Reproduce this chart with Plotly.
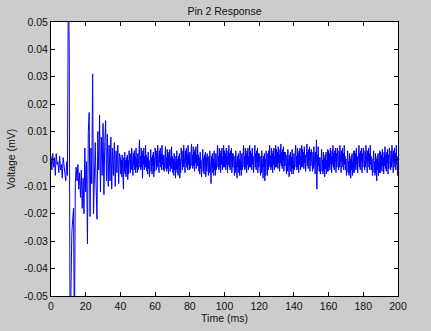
import plotly.graph_objects as go

# Sample times (ms): 0.5 ms grid to 40 ms, then 0.25 ms grid to 200 ms
time_early_ms = [i * 0.5 for i in range(80)]
time_late_ms = [40 + i * 0.25 for i in range(641)]

# Voltage, in microvolts (1 uV = 0.001 mV)
voltage_early_uV = [
    1, -4, 2, -3, 0.5, -6, 2, -2, -1, -5,
    1, -4, -2, -7, 0.5, -3, -5, -8, -1, -6,
    70, 40, -70, -36, -27, -22, -18, -70, -9, -3,
    -8, -2, -11, -5, -14, -4, -18, -7, -20, 4,
    -12, -1, -31, 10, 17, -21, 4, -9, 31, -20,
    -2, 6, -10, -22, 10, -4, 16, -12, 8, -6,
    13, -13, 6, 14, -8, 9, -10, 5, -8, 8,
    -11, 4, -6, 6, -10, 3, -5, 5, -9, 2,
]

voltage_late_uV = [
    0.5, -5.5, -0.5, -6.5, 1.5, -4.5, -1.5, -11, 0.5, -4.5, 2.5, -5.5, -0.5, -6.5, 0.5, -3.5, 1.5, -7.5, -0.5, -5.5,
    3, -3, 0, -5, 2, -4, 4, -3, 1, -6, 2, -2, 3, -4, 1, -5, 4, -3, 0, -5,
    2, -4, 3, -2, 7, -3, 1, -4, 4, -3, 2, -7, 3, -2, 4, -4, 1, -3, 5, -3,
    1.5, -4.5, 0.5, -5.5, 2.5, -3.5, -0.5, -6.5, 1.5, -3.5, 3.5, -4.5, 0.5, -5.5, 1.5, -2.5, 2.5, -6.5, 0.5, -4.5,
    4, -2, 1, -4, 3, -3, 5, -2, 2, -5, 3, -1, 4, -3, 2, -4, 5, -2, 1, -4,
    1.5, -4.5, 2.5, -2.5, 4.5, -3.5, 0.5, -4.5, 3.5, -3.5, 1.5, -5.5, 2.5, -2.5, 3.5, -4.5, 0.5, -3.5, 4.5, -3.5,
    1, -5, 0, -6, 2, -4, -1, -7, 1, -4, 3, -5, 0, -6, 1, -3, 2, -7, 0, -5,
    4, -2, 1, -4, 3, -3, 5, -2, 2, -5, 3, -1, 4, -3, 2, -4, 5, -2, 1, -4,
    2.5, -3.5, 3.5, -1.5, 5.5, -2.5, 1.5, -3.5, 4.5, -2.5, 2.5, -4.5, 3.5, -1.5, 4.5, -3.5, 1.5, -2.5, 5.5, -2.5,
    1.5, -4.5, 0.5, -5.5, 2.5, -3.5, -0.5, -6.5, 1.5, -3.5, 3.5, -4.5, 0.5, -5.5, 1.5, -2.5, 2.5, -6.5, 0.5, -4.5,
    2, -4, -1, -6, 1, -5, 3, -4, 0, -9, 1, -3, 2, -5, 0, -6, 3, -4, -1, -6,
    2, -4, 3, -2, 5, -3, 1, -4, 4, -3, 2, -5, 3, -2, 4, -4, 1, -3, 5, -3,
    3, -3, 2, -4, 4, -2, 1, -5, 3, -2, 5, -3, 2, -4, 3, -1, 4, -5, 2, -3,
    2, -4, -1, -6, 1, -5, 3, -4, 0, -7, 1, -3, 2, -5, 0, -6, 3, -4, -1, -6,
    2, -4, 3, -2, 5, -3, 1, -4, 4, -3, 2, -5, 3, -2, 4, -4, 1, -3, 5, -3,
    3, -3, 2, -4, 4, -2, 1, -5, 3, -2, 5, -3, 2, -4, 3, -1, 4, -5, 2, -3,
    2, -4, -1, -6, 1, -5, 3, -4, 0, -7, 1, -3, 2, -8, 0, -6, 3, -4, -1, -6,
    2, -4, 3, -2, 5, -3, 1, -4, 4, -3, 2, -5, 3, -2, 4, -4, 1, -3, 5, -3,
    3.5, -2.5, 2.5, -3.5, 4.5, -1.5, 1.5, -4.5, 3.5, -1.5, 5.5, -2.5, 2.5, -3.5, 3.5, -0.5, 4.5, -4.5, 2.5, -2.5,
    2.5, -3.5, -0.5, -5.5, 1.5, -4.5, 3.5, -3.5, 0.5, -6.5, 1.5, -2.5, 2.5, -4.5, 0.5, -5.5, 3.5, -3.5, -0.5, -5.5,
    2, -4, 3, -2, 5, -3, 1, -4, 4, -3, 2, -5, 3, -2, 4, -4, 1, -3, 5, -3,
    3.5, -2.5, 2.5, -3.5, 4.5, -1.5, 1.5, -4.5, 3.5, -1.5, 5.5, -2.5, 2.5, -3.5, 3.5, -0.5, 4.5, -4.5, 2.5, -2.5,
    3.5, -2.5, 0.5, -4.5, 2.5, -3.5, 4.5, -2.5, 1.5, -5.5, 2.5, -1.5, 7, -11, 1.5, -4.5, 4.5, -2.5, 0.5, -4.5,
    0.5, -5.5, 1.5, -3.5, 3.5, -4.5, -0.5, -5.5, 2.5, -4.5, 0.5, -6.5, 1.5, -3.5, 2.5, -5.5, -0.5, -4.5, 3.5, -4.5,
    3, -3, 2, -4, 4, -2, 1, -5, 3, -2, 5, -3, 2, -4, 3, -1, 4, -5, 2, -3,
    4, -2, 1, -4, 3, -3, 5, -2, 2, -5, 3, -1, 4, -3, 2, -4, 5, -2, 1, -4,
    0, -6, 1, -4, 3, -5, -1, -6, 2, -5, 0, -7, 1, -4, 2, -6, -1, -5, 3, -5,
    3, -3, 2, -4, 4, -2, 1, -5, 3, -2, 5, -3, 2, -4, 3, -1, 4, -5, 2, -3,
    4, -2, 1, -4, 3, -3, 5, -2, 2, -5, 3, -1, 4, -3, 2, -4, 5, -2, 1, -4,
    0, -6, 1, -4, 3, -5, -1, -6, 2, -5, 0, -8, 1, -4, 2, -6, -1, -5, 3, -5,
    2.5, -3.5, 1.5, -4.5, 3.5, -2.5, 0.5, -5.5, 2.5, -2.5, 4.5, -3.5, 1.5, -4.5, 2.5, -1.5, 3.5, -5.5, 1.5, -3.5,
    4, -2, 1, -4, 3, -3, 5, -2, 2, -5, 3, -1, 4, -3, 2, -4, 5, -2, 1, -6,
    -3,
]

time_ms = time_early_ms + time_late_ms
voltage_mV = [v / 1000 for v in voltage_early_uV + voltage_late_uV]

x_ticks = [0, 20, 40, 60, 80, 100, 120, 140, 160, 180, 200]
x_tick_labels = ["0", "20", "40", "60", "80", "100", "120", "140", "160", "180", "200"]
y_ticks = [0.05, 0.04, 0.03, 0.02, 0.01, 0.0, -0.01, -0.02, -0.03, -0.04, -0.05]
y_tick_labels = ["0.05", "0.04", "0.03", "0.02", "0.01", "0", "-0.01", "-0.02", "-0.03", "-0.04", "-0.05"]

FONT = "Liberation Sans, Arial, sans-serif"

fig = go.Figure()
fig.add_trace(go.Scatter(
    x=time_ms, y=voltage_mV, mode="lines",
    line=dict(color="#0000FF", width=1),
    showlegend=False, hoverinfo="skip",
))

axis_common = dict(
    showline=True, linecolor="black", linewidth=1, mirror="allticks",
    ticks="inside", ticklen=4, tickcolor="black", tickwidth=1,
    showgrid=False, zeroline=False,
    tickfont=dict(family=FONT, size=10.5, color="#111"),
)

fig.update_layout(
    width=431, height=331,
    margin=dict(l=51, r=33, t=22, b=35, autoexpand=False),
    paper_bgcolor="#CCCCCC", plot_bgcolor="white",
    font=dict(family=FONT, size=10.5, color="#111"),
    title=dict(text="Pin 2 Response", x=0.5, xref="paper", xanchor="center",
               y=1 - 11 / 331, yref="container", yanchor="middle",
               font=dict(family=FONT, size=10.5, color="#111")),
    xaxis=dict(range=[0, 200], tickvals=x_ticks, ticktext=x_tick_labels,
               title=dict(text="Time (ms)", standoff=2,
                          font=dict(family=FONT, size=10.5, color="#111")),
               **axis_common),
    yaxis=dict(range=[-0.05, 0.05], tickvals=y_ticks, ticktext=y_tick_labels,
               title=dict(text="Voltage (mV)", standoff=6,
                          font=dict(family=FONT, size=10.5, color="#111")),
               **axis_common),
)

fig.write_html("out.html")
